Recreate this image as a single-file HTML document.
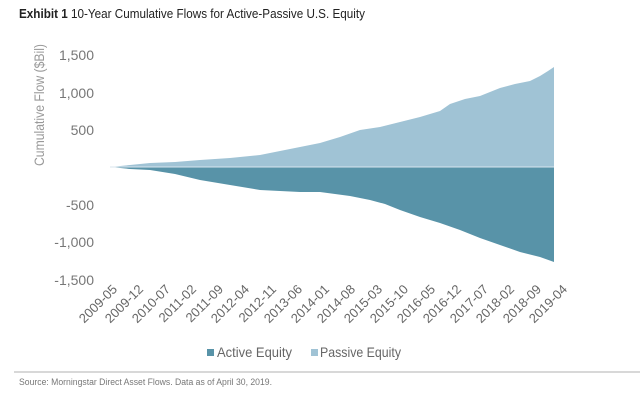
<!DOCTYPE html>
<html><head><style>
body{margin:0;background:#fff;width:640px;height:406px;overflow:hidden;font-family:"Liberation Sans",sans-serif;}
</style></head><body>
<svg width="640" height="406" viewBox="0 0 640 406" xmlns="http://www.w3.org/2000/svg" font-family="Liberation Sans, sans-serif">
<text x="19" y="18" font-size="13" fill="#222" textLength="346" lengthAdjust="spacingAndGlyphs"><tspan font-weight="bold">Exhibit 1</tspan> 10-Year Cumulative Flows for Active-Passive U.S. Equity</text>
<text transform="translate(44,105) rotate(-90)" text-anchor="middle" font-size="14" fill="#999" textLength="122" lengthAdjust="spacingAndGlyphs">Cumulative Flow ($Bil)</text>
<g font-size="14" fill="#777" text-anchor="end">
<text x="94" y="60">1,500</text>
<text x="94" y="98">1,000</text>
<text x="94" y="135">500</text>
<text x="94" y="210">-500</text>
<text x="94" y="247">-1,000</text>
<text x="94" y="285">-1,500</text>
</g>
<path fill="#a0c3d5" d="M110,167 L130,165 L150,163 L175,162 L200,160 L230,158 L260,155 L280,151 L300,147 L320,143 L340,137 L360,130 L380,127 L400,122 L420,117 L440,111 L450,104 L465,99 L480,96 L490,92 L500,88 L515,84 L530,81 L540,76 L548,71 L554,67 L554,167 Z"/>
<path fill="#5893a8" d="M110,167 L554,167 L554,262 L540,257 L520,252 L500,245 L480,238 L460,230 L440,223 L420,217 L400,210 L385,204 L370,200 L350,196 L320,192 L300,192 L280,191 L260,190 L230,185 L200,180 L175,174 L150,170 L130,169 Z"/>
<line x1="110" y1="167" x2="554" y2="167" stroke="#d8e6ee" stroke-width="1"/>
<g font-size="13" fill="#666" text-anchor="end">
<text transform="translate(118,290) rotate(-45)">2009-05</text>
<text transform="translate(144,290) rotate(-45)">2009-12</text>
<text transform="translate(171,290) rotate(-45)">2010-07</text>
<text transform="translate(197,290) rotate(-45)">2011-02</text>
<text transform="translate(224,290) rotate(-45)">2011-09</text>
<text transform="translate(250,290) rotate(-45)">2012-04</text>
<text transform="translate(277,290) rotate(-45)">2012-11</text>
<text transform="translate(303,290) rotate(-45)">2013-06</text>
<text transform="translate(330,290) rotate(-45)">2014-01</text>
<text transform="translate(356,290) rotate(-45)">2014-08</text>
<text transform="translate(383,290) rotate(-45)">2015-03</text>
<text transform="translate(409,290) rotate(-45)">2015-10</text>
<text transform="translate(436,290) rotate(-45)">2016-05</text>
<text transform="translate(462,290) rotate(-45)">2016-12</text>
<text transform="translate(489,290) rotate(-45)">2017-07</text>
<text transform="translate(515,290) rotate(-45)">2018-02</text>
<text transform="translate(542,290) rotate(-45)">2018-09</text>
<text transform="translate(568,290) rotate(-45)">2019-04</text>
</g>
<rect x="207" y="349" width="7" height="7" fill="#5893a8"/>
<text x="217" y="357" font-size="14" fill="#666" textLength="75" lengthAdjust="spacingAndGlyphs">Active Equity</text>
<rect x="311" y="349" width="7" height="7" fill="#a0c3d5"/>
<text x="320" y="357" font-size="14" fill="#666" textLength="81" lengthAdjust="spacingAndGlyphs">Passive Equity</text>
<line x1="14" y1="372" x2="640" y2="372" stroke="#ccc" stroke-width="1.5"/>
<text x="19" y="385" font-size="9" fill="#777" textLength="253" lengthAdjust="spacingAndGlyphs">Source: Morningstar Direct Asset Flows. Data as of April 30, 2019.</text>
</svg>
</body></html>
